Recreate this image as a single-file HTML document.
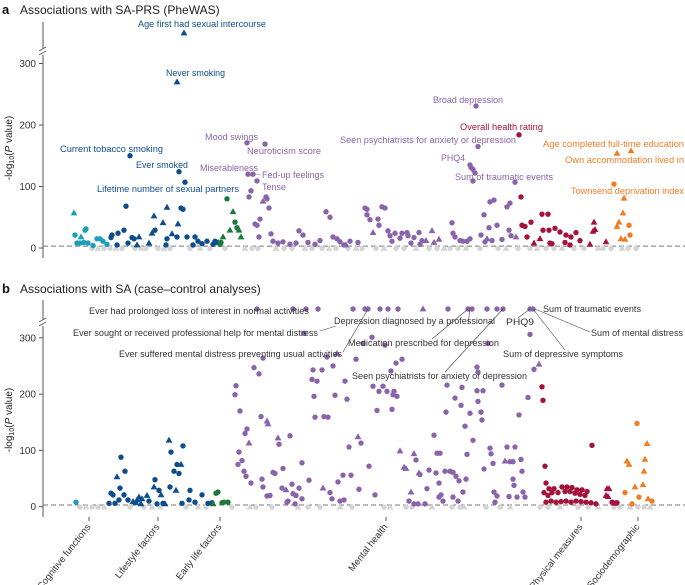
<!DOCTYPE html>
<html><head><meta charset="utf-8"><style>
body{margin:0;background:#fff;}
svg{display:block;font-family:"Liberation Sans",sans-serif;}
</style></head><body>
<svg id="chart" width="685" height="585" viewBox="0 0 685 585" xmlns="http://www.w3.org/2000/svg">
<g id="static">
<text x="2" y="14" font-size="13" font-weight="bold" fill="#111">a</text>
<text x="20" y="14" font-size="12" fill="#222">Associations with SA-PRS (PheWAS)</text>
<text x="2" y="293" font-size="13" font-weight="bold" fill="#111">b</text>
<text x="20" y="293" font-size="12" fill="#222">Associations with SA (case–control analyses)</text>
<text transform="translate(12,148) rotate(-90)" text-anchor="middle" font-size="10" fill="#222">-log<tspan font-size="7" dy="2">10</tspan><tspan dy="-2">(</tspan><tspan font-style="italic">P</tspan> value)</text>
<text transform="translate(12,420) rotate(-90)" text-anchor="middle" font-size="10" fill="#222">-log<tspan font-size="7" dy="2">10</tspan><tspan dy="-2">(</tspan><tspan font-style="italic">P</tspan> value)</text>
</g>
<g id="plot"></g>
</svg>
<script>
// ---- data: phenotype order index, -log10(P), marker ('t' = triangle) ; values > 320 drawn above axis break
const aCognitive=[[34,57,'t'],[35,21],[41,18,'t'],[45,29],[46,31],[48,8],[37,8],[57,15],[60,15],[63,11],[67,6],[53,4],[40,8],[44,9]];
const aLifestyle=[[72,21],[71,17],[78,24],[77,5],[84,29],[86,68],[88,8],[92,17],[94,15],[99,18,'t'],[97,5,'t'],[90,150],[109,8,'t'],[112,24,'t'],[114,52,'t'],[115,29],[123,41,'t'],[127,66,'t'],[127,15],[126,5],[132,23,'t'],[138,39,'t'],[141,65],[143,63],[137,18],[139,124],[145,107],[147,18],[153,5],[155,18],[158,11],[162,7],[167,11],[173,6],[175,11],[178,9,'t'],[137,270,'t'],[144,350,'t']];
const aEarly=[[187,80],[183,18,'t'],[181,9],[190,29,'t'],[193,59,'t'],[195,42],[197,33],[199,29,'t'],[201,18,'t'],[180,6]];
const aMental=[[207,171],[225,169],[208,120],[213,120],[217,109],[211,93],[209,83],[226,83],[223,76,'t'],[227,80],[229,65],[220,47],[215,39],[217,37],[219,18],[231,23],[233,11],[238,8],[243,10],[250,6],[256,8],[259,28],[263,21],[268,9],[275,6],[280,12],[286,59],[290,50],[293,18],[297,15],[300,10],[304,5],[306,5,'t'],[310,11],[318,9],[325,65],[327,63],[342,67],[345,65],[338,47],[327,54],[330,46],[339,37],[348,28],[333,25,'t'],[350,20],[355,24],[362,24],[367,25],[379,25],[392,28,'t'],[360,16],[368,20],[374,17],[382,12],[352,11],[412,41],[413,24],[420,12],[415,18],[423,11],[430,15],[436,231],[438,165],[430,135],[431,131],[433,128],[435,122],[433,109],[475,107],[454,78],[450,75],[470,73],[467,67],[444,54],[457,37],[449,33],[469,29],[441,21],[427,11],[445,10],[452,12],[462,14],[471,20],[476,18,'t'],[447,15,'t'],[399,14,'t'],[386,12,'t'],[394,9,'t'],[371,8],[380,6]];
const aPhysical=[[479,184],[481,83],[502,55],[508,55],[491,42],[482,37],[485,35],[503,29],[509,29],[515,32],[520,26],[526,21],[531,18],[536,25],[540,12],[554,42,'t'],[555,30,'t'],[553,27,'t'],[487,18],[500,15,'t'],[494,8,'t'],[510,8],[550,6,'t'],[566,10,'t'],[512,7],[525,9],[530,5]];
const aSocio=[[577,154,'t'],[591,158,'t'],[574,104],[584,81,'t'],[583,57,'t'],[579,42,'t'],[577,35,'t'],[589,37],[590,21],[581,15,'t'],[585,14,'t']];
const aGrey=[52,58,64,70,76,82,95,101,106,118,124,130,150,160,170,185,205,212,218,236,244,252,265,272,282,289,296,308,316,322,336,344,356,364,376,389,397,404,410,418,426,440,458,466,478,490,497,506,514,522,534,544,558,563,571,582,588,596];
const bCognitive=[[36,8]];
const bLifestyle=[[77,53,'t'],[81,88],[85,63],[80,33],[84,21],[71,24],[73,21],[79,12],[88,12],[69,6],[75,6],[93,9,'t'],[97,12,'t'],[99,17,'t'],[102,14,'t'],[107,20,'t'],[109,10],[115,48],[114,35,'t'],[119,29],[121,21,'t'],[117,5],[123,6],[129,118,'t'],[131,97],[130,35],[136,29,'t'],[134,63],[137,75],[141,75,'t'],[139,59],[143,108],[142,6],[150,29],[149,12],[155,8],[162,21],[168,6],[172,7],[125,5,'t'],[101,5,'t'],[96,7,'t']];
const bEarly=[[176,24],[178,26],[173,5,'t'],[184,8],[188,8],[182,7]];
const bMental=[[196,215],[195,199],[200,170],[199,97],[202,82],[198,75],[204,63],[206,54],[211,42],[205,130],[207,138],[209,113,'t'],[214,247],[219,236],[223,264],[221,160],[227,152,'t'],[228,147,'t'],[222,49],[223,35],[227,19],[230,20],[233,61],[235,59],[238,122,'t'],[239,111],[243,68],[242,33],[246,30,'t'],[247,8],[248,10],[250,126],[252,40],[253,23],[256,20],[259,33],[262,78],[262,14],[269,47],[272,226],[273,243],[274,196],[277,223],[275,159],[284,160],[288,159],[283,33,'t'],[282,243],[287,266],[290,25],[292,14],[293,250],[295,198],[298,44],[297,272,'t'],[264,308],
[217,350],[253,350],[266,350],[278,350],[313,350],[325,350],[328,350],[340,350],[348,350],[358,350],[383,350,'t'],[408,350],[428,350],[432,350],[447,350],[457,350],[463,350],[490,350],[493,350],
[332,301],[323,290],[345,287],[316,262],[362,262],[356,255],[351,241],[305,223],[333,214],[343,214],[339,205],[347,205],[354,205],[353,199],[357,196],[307,191],[337,171],[352,173],[318,124,'t'],[321,113],[309,106],[329,72],[303,56],[311,56],[319,31],[304,12],[335,21],[360,99,'t'],[374,94,'t'],[376,83],[364,70,'t'],[366,68,'t'],[379,60,'t'],[380,57],[387,32],[371,26,'t'],[369,10],[374,5],[378,5],[385,5],[389,65],[394,127],[396,60],[397,95],[400,95],[399,42],[401,21],[399,17],[403,10],[405,63],[410,63],[413,61],[416,54],[419,46],[413,17],[418,10],[423,26],[426,49],[427,93],[433,118],[425,143],[430,166],[421,180],[407,216],[406,168],[415,193],[422,212],[437,248],[438,239],[437,206],[443,206],[438,187],[441,168],[442,154],[448,290],[462,216],[444,67],[450,104],[451,94],[453,77],[454,26],[457,19],[455,8],[467,106],[475,106],[465,81,'t'],[470,80],[473,80],[481,84],[482,63],[473,49],[474,38],[469,18],[477,17],[483,26],[485,17],[479,163],[488,194],[494,244],[499,253,'t'],[490,306],[255,5],[300,10]];
const bPhysical=[[502,213],[503,189],[505,72],[552,109],[506,42],[509,32],[514,32],[522,35],[527,35],[532,34],[537,30],[542,30],[547,27],[512,25],[518,25],[525,27],[530,27],[535,24],[540,22],[545,20],[508,20],[504,25],[506,8],[511,10],[516,8],[521,9],[526,10],[531,8],[536,10],[541,9],[546,8],[551,7],[556,5],[567,32,'t'],[569,32,'t'],[566,20,'t'],[568,18,'t'],[572,8],[575,6,'t'],[577,7]];
const bSocio=[[597,148],[607,112,'t'],[605,84,'t'],[587,81,'t'],[589,75,'t'],[604,63,'t'],[603,39,'t'],[595,35,'t'],[585,25],[599,17],[608,14,'t'],[612,10],[592,5]];
const bGrey=[40,46,52,58,64,90,104,112,120,146,158,166,192,210,216,232,258,268,280,300,312,344,350,366,372,392,412,420,424,446,460,470,500,508,520,538,548,558,574,580,590,598,604,610];
const yTicks=[0,100,200,300];
const categories=["Cognitive functions","Lifestyle factors","Early life factors","Mental health","Physical measures","Sociodemographic"];
const categoryPos=[49,118,180,346,541,598];
const colors=["#1a9fb8","#0d4d8c","#1b7a3a","#8a64aa","#a5123c","#ef7d25"];

const xS=d=>40+d;
const yA=v=>v>320?33:248-v*0.615;
const yB=v=>v>320?309:506.7-v*0.563;
const NS="http://www.w3.org/2000/svg";
const plot=document.getElementById('plot');
function mk(tag,attrs,parent){const e=document.createElementNS(NS,tag);for(const k in attrs)e.setAttribute(k,attrs[k]);(parent||plot).appendChild(e);return e;}

function axis(panel,ys,top,bottom,brk){
  const g=mk('g',{});
  
  
  mk('line',{x1:43,x2:43,y1:top,y2:brk-3,stroke:'#555','stroke-width':1},g);
  mk('line',{x1:43,x2:43,y1:brk+3,y2:bottom,stroke:'#555','stroke-width':1},g);
  mk('line',{x1:39,x2:46,y1:brk-1,y2:brk-5,stroke:'#555','stroke-width':0.8},g);
  mk('line',{x1:39,x2:46,y1:brk+3,y2:brk-1,stroke:'#555','stroke-width':0.8},g);
  yTicks.forEach(t=>{
    mk('line',{x1:39,x2:43,y1:ys(t),y2:ys(t),stroke:'#555'},g);
    const tx=mk('text',{x:36,y:ys(t)+3.5,'text-anchor':'end','font-size':10,fill:'#333'},g);
    tx.textContent=t;
  });
  const d=mk('line',{x1:43,x2:685,y1:ys(3),y2:ys(3),stroke:'#777','stroke-dasharray':'5,3','stroke-width':1});
  
  
}
function grey(arr,ys,panel){
  arr.forEach((x,i)=>{
    const e=(i%3===1)?mk('path',{d:tri(xS(x),ys(1)+1),fill:'#d4d4d4'}):mk('circle',{cx:xS(x),cy:ys(1)+1,r:2.7,fill:'#d4d4d4'});
    
    
  });
}
function tri(x,y){return `M${x},${y-3.6}L${x+3.4},${y+2.4}L${x-3.4},${y+2.4}Z`;}
function series(arr,ys,ci,panel){
  arr.forEach(p=>{
    const x=xS(p[0]),y=ys(p[1]);
    const e=p[2]==='t'?mk('path',{d:tri(x,y),fill:colors[ci]}):mk('circle',{cx:x,cy:y,r:2.7,fill:colors[ci]});
    
    
  });
}
axis('panel-a',yA,22,258,52);
axis('panel-b',yB,300,517,323);
grey(aGrey,yA,'panel-a');grey(bGrey,yB,'panel-b');
[aCognitive,aLifestyle,aEarly,aMental,aPhysical,aSocio].forEach((s,i)=>series(s,yA,i,'panel-a'));
[bCognitive,bLifestyle,bEarly,bMental,bPhysical,bSocio].forEach((s,i)=>series(s,yB,i,'panel-b'));

categories.forEach((c,i)=>{
  const x=xS(categoryPos[i]);
  mk('line',{x1:x,x2:x,y1:517,y2:521,stroke:'#555'});
  const t=mk('text',{transform:`translate(${x+2},527) rotate(-52)`,'text-anchor':'end','font-size':9.5,fill:'#333'});
  t.textContent=c;
  
  
});

const labelsA=[["Age first had sexual intercourse",138,27,128,1],["Never smoking",166,76,59,1],["Current tobacco smoking",60,152,103,1],["Ever smoked",136,168,52,1],["Lifetime number of sexual partners",97,192,142,1],
["Mood swings",205,140,53,3],["Neuroticism score",247,154,74,3],["Miserableness",200,171,58,3],["Fed-up feelings",262,178,62,3],["Tense",262,190,24,3],
["Broad depression",433,103,70,3],["Overall health rating",460,130,83,4],["Seen psychiatrists for anxiety or depression",340,143,176,3],["PHQ4",441,161,24,3],["Sum of traumatic events",455,180,98,3],
["Age completed full-time education",543,147,141,5],["Own accommodation lived in",565,163,119,5],["Townsend deprivation index",571,194,113,5]];
labelsA.forEach(l=>{
  const t=mk('text',{x:l[1],y:l[2],'font-size':9.5,fill:colors[l[4]],textLength:l[3],lengthAdjust:'spacingAndGlyphs'});
  t.textContent=l[0];
  
  
});
mk('line',{x1:255,y1:174,x2:261,y2:175,stroke:'#888','stroke-width':0.6});
const labelsB=[["Ever had prolonged loss of interest in normal activities",89,314,220],["Ever sought or received professional help for mental distress",73,336,245],["Depression diagnosed by a professional",334,324,161],["Ever suffered mental distress preventing usual activities",119,357,223],["Medication prescribed for depression",348,346,151],["PHQ9",506,325,28],["Sum of traumatic events",543,312,98],["Sum of mental distress",591,336,92],["Sum of depressive symptoms",503,357,120],["Seen psychiatrists for anxiety or depression",352,379,175]];
labelsB.forEach(l=>{
  const t=mk('text',{x:l[1],y:l[2],'font-size':9.5,fill:'#333',textLength:l[3],lengthAdjust:'spacingAndGlyphs'});
  t.textContent=l[0];
  
  
});
[[320,331,336,326],[343,352,368,309],[432,339,468,309],[445,372,503,309],[518,318,530,309],[535,309,590,332],[533,309,565,350],[468,324,470,309]].forEach(s=>{
  const l=mk('line',{x1:s[0],y1:s[1],x2:s[2],y2:s[3],stroke:'#444','stroke-width':0.6});
  
  
});
</script>
</body></html>
